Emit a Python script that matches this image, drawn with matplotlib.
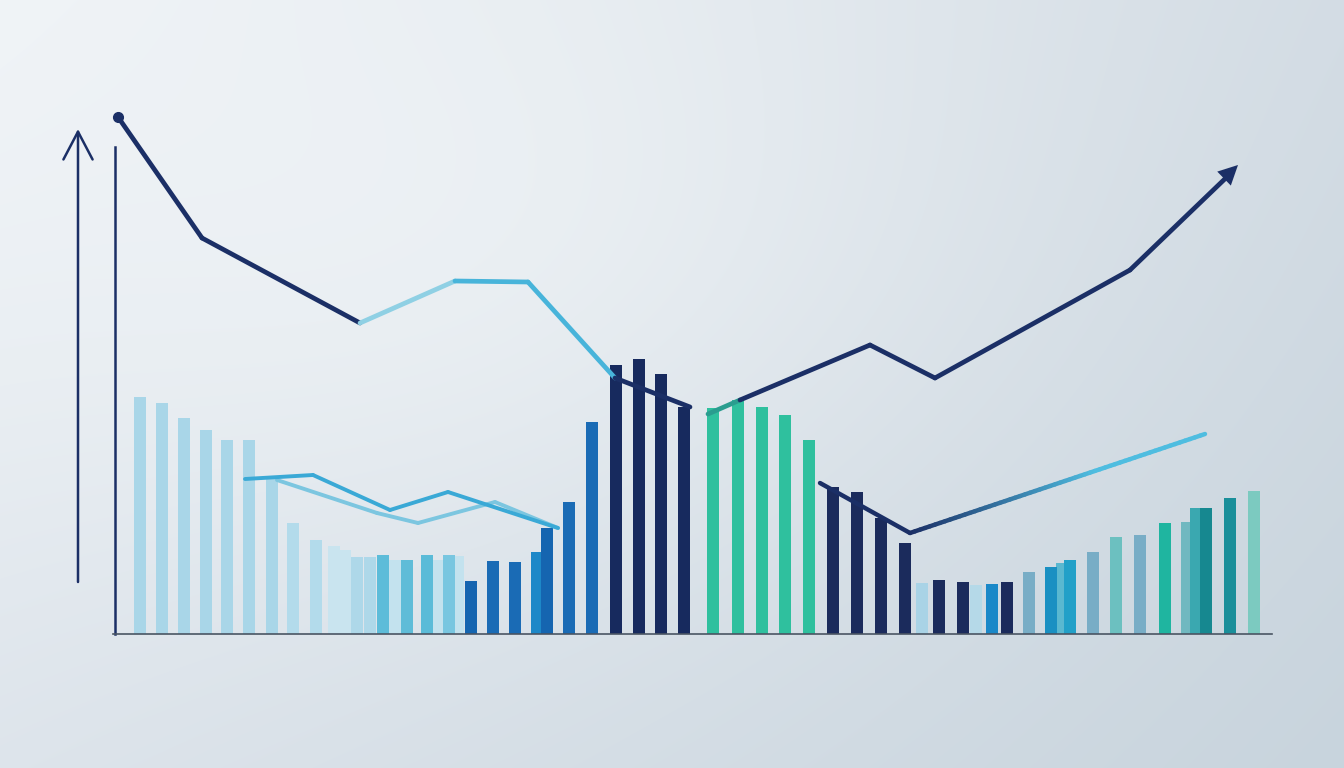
import matplotlib
matplotlib.use("Agg")
import matplotlib.pyplot as plt
import numpy as np
from matplotlib.collections import LineCollection
from matplotlib.colors import to_rgb

# bar positions (x) and heights above the baseline
bar_x = [140, 162, 184, 206, 227, 249, 272, 293, 316, 334, 345, 357, 370, 383, 395,
         407, 427, 438, 449, 458, 471, 493, 515, 537, 547, 569, 592, 616, 639, 661,
         684, 713, 738, 762, 785, 809, 833, 857, 881, 905, 922, 939, 963, 976, 992,
         1007, 1029, 1051, 1062, 1070, 1093, 1116, 1140, 1165, 1187, 1196, 1206, 1230, 1254]
bar_h = [237, 231, 216, 204, 194, 194, 156, 111, 94, 88, 84, 77, 77, 79, 74,
         74, 79, 74, 79, 78, 53, 73, 72, 82, 106, 132, 212, 269, 275, 260,
         227, 226, 234, 227, 219, 194, 147, 142, 116, 91, 51, 54, 52, 49, 50,
         52, 62, 67, 71, 74, 82, 97, 99, 111, 112, 126, 126, 136, 143]
bar_colors = (["#a9d6e8"] * 7 + ["#b3dbeb"] * 2 + ["#c9e4ef"] * 2 + ["#aed8e9"] * 2
              + ["#5dbcd9", "#c3e2ee", "#5fbcd8", "#5abbd8", "#c3e2ee", "#78c6e0", "#c3e2ee"]
              + ["#1565b0", "#1a6bb5", "#1a6bb5", "#1d88c8", "#1565b0", "#1a6bb5", "#1a6bb5"]
              + ["#172a5e"] * 4 + ["#2fc09e"] * 5 + ["#1b2b5c"] * 4
              + ["#a9d3e6", "#1b2b5c", "#1b2b5c", "#b5d9e8", "#1a88c8", "#1b2b5c"]
              + ["#78adc6", "#1a90c2", "#5ab8d0", "#22a0c8", "#78adc6", "#6cc0c0", "#78adc6",
                 "#1fb5a0", "#70b8c0", "#3aa8b0", "#168890", "#1a8f9a", "#7ccac0"])

# line series (x, height above baseline)
main_x = [118, 202, 360, 455, 528, 615, 690]
main_y = [517, 396, 311, 353, 352, 256, 227]
main_seg_colors = ["#1b2f66", "#1b2f66", "#8fd0e4", "#48b4da", "#48b4da", "#1b2f66"]

right_x = [708, 740, 870, 935, 1130, 1230]
right_y = [220, 234, 289, 256, 364, 460]
right_seg_colors = ["#2a9d8f", "#1b2f66", "#1b2f66", "#1b2f66", "#1b2f66"]

low_x = [820, 910, 1205]
low_y = [151, 101, 200]

cyan_a_x = [245, 313, 390, 448, 558]
cyan_a_y = [155, 159, 124, 142, 106]
cyan_b_x = [277, 377, 418, 495, 558]
cyan_b_y = [154, 121, 111, 132, 106]

W, H = 1344, 768
BASE = 634

fig = plt.figure(figsize=(13.44, 7.68), dpi=100)
ax = fig.add_axes([0, 0, 1, 1])
ax.set_xlim(0, W)
ax.set_ylim(BASE - H, BASE)
ax.axis("off")

# soft background: corner blend plus a light glow upper left
u = np.linspace(0, 1, W)[None, :, None]
v = np.linspace(0, 1, H)[:, None, None]
tl, tr = np.array(to_rgb("#eff3f6")), np.array(to_rgb("#d3dce4"))
bl, br = np.array(to_rgb("#dde4eb")), np.array(to_rgb("#c8d4dd"))
img = (1 - u) * (1 - v) * tl + u * (1 - v) * tr + (1 - u) * v * bl + u * v * br
yy, xx = np.mgrid[0:H, 0:W]
glow = np.exp(-(((xx - 420) / 520.0) ** 2 + ((yy - 220) / 330.0) ** 2))[..., None]
img = img * (1 - 0.5 * glow) + np.array(to_rgb("#f5f8fa")) * 0.5 * glow
ax.imshow(img, extent=(0, W, BASE - H, BASE), origin="upper", aspect="auto", zorder=0)

faint = {"#c9e4ef", "#c3e2ee", "#a9d3e6", "#b5d9e8", "#5ab8d0", "#70b8c0", "#3aa8b0"}
for x, h, c in zip(bar_x, bar_h, bar_colors):
    z = 2 if c in faint else 3
    ax.bar(x, h, width=12, bottom=0, color=c, zorder=z, linewidth=0)

# axes decorations
ax.plot([115, 115], [0, BASE - 147], color="#1b2f66", lw=1.8, zorder=5)
ax.plot([113, 1272], [0, 0], color="#4a5563", lw=1.2, zorder=5)
ax.annotate("", xy=(78, BASE - 129), xytext=(78, BASE - 582),
            arrowprops=dict(arrowstyle="->,head_length=2.0,head_width=1.05",
                            color="#1b2f66", lw=1.8, shrinkA=0, shrinkB=0), zorder=5)


def seg_lines(xs, ys, colors, lw, z):
    for i, c in enumerate(colors):
        ax.plot(xs[i:i + 2], ys[i:i + 2], color=c, lw=lw, zorder=z,
                solid_capstyle="round", solid_joinstyle="round")


seg_lines(cyan_b_x, cyan_b_y, ["#7cc6e0"] * 4, 2.8, 6)
seg_lines(cyan_a_x, cyan_a_y, ["#3aa9d6"] * 4, 2.8, 6)
seg_lines(main_x, main_y, main_seg_colors, 3.4, 7)
ax.plot(main_x[0], main_y[0], "o", color="#1b2f66", ms=7, zorder=8)
seg_lines(right_x, right_y, right_seg_colors, 3.4, 7)
ax.annotate("", xy=(1238, 469), xytext=(right_x[-2], right_y[-2]),
            arrowprops=dict(arrowstyle="-|>,head_length=1.4,head_width=0.7",
                            color="#1b2f66", lw=0.01, shrinkA=0, shrinkB=0), zorder=8)

# second line on the right with a navy -> cyan colour ramp
ax.plot(low_x[:2], low_y[:2], color="#1b2f66", lw=3.2, zorder=7, solid_capstyle="round")
t = np.linspace(0, 1, 60)
px = low_x[1] + t * (low_x[2] - low_x[1])
py = low_y[1] + t * (low_y[2] - low_y[1])
pts = np.column_stack([px, py]).reshape(-1, 1, 2)
segs = np.concatenate([pts[:-1], pts[1:]], axis=1)
c0, c1 = np.array(to_rgb("#1b2f66")), np.array(to_rgb("#4fbde0"))
k = np.clip(t[:-1] * 1.6, 0, 1)[:, None]
lc = LineCollection(segs, colors=c0 * (1 - k) + c1 * k, linewidths=3.2, zorder=7,
                    capstyle="round")
ax.add_collection(lc)

fig.savefig("out.png", dpi=100)
